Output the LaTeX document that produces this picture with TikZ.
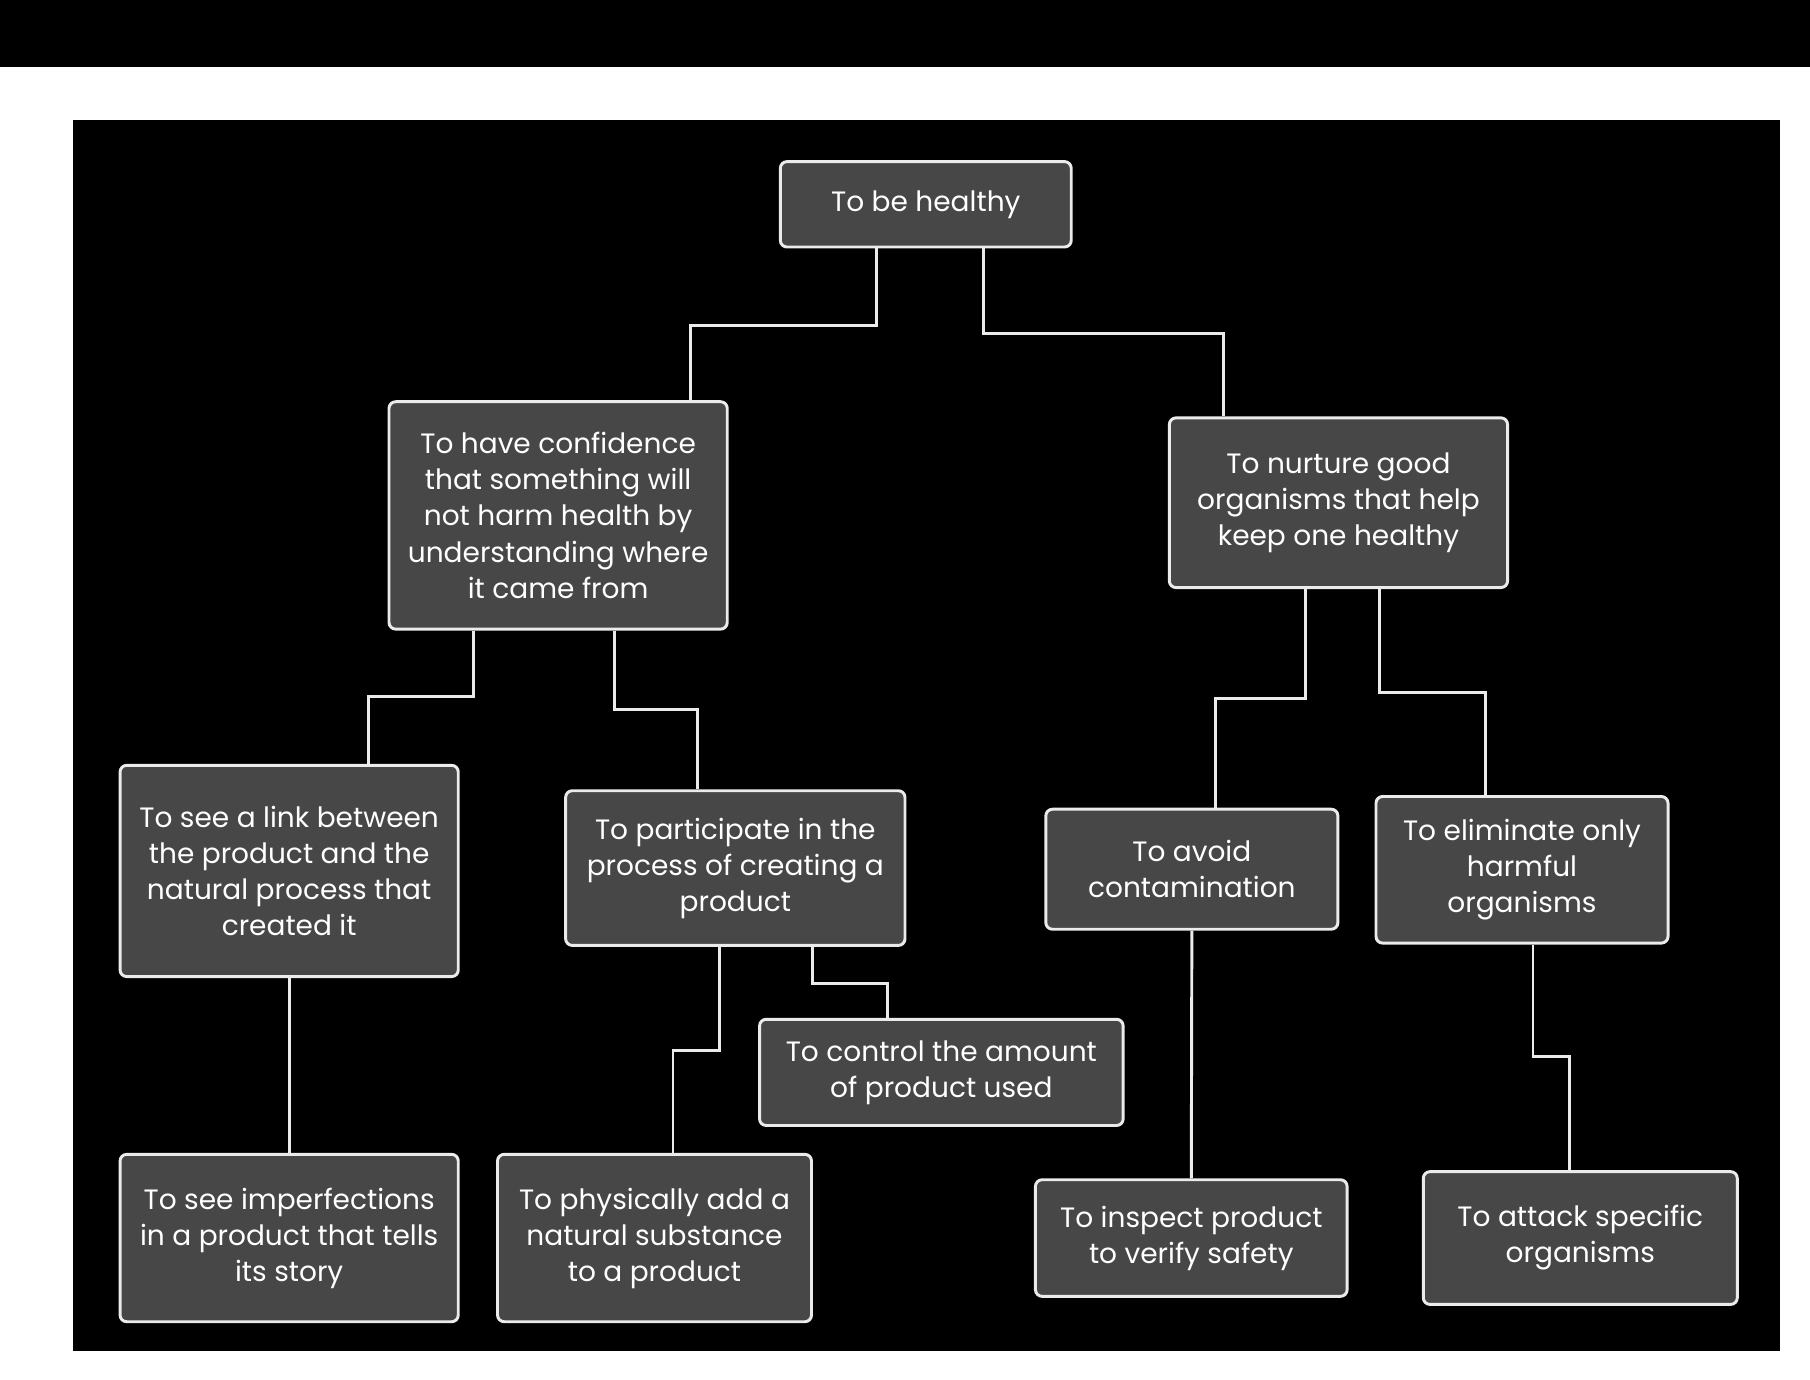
\documentclass[tikz,border=0pt]{standalone}
\usepackage{fontspec}
\setmainfont{Poppins}
\begin{document}
\begin{tikzpicture}[x=0.8655pt,y=-0.8655pt,
  box/.style={draw=white!92!black,line width=2.2pt,fill=black!72,rounded corners=5pt,text=white,align=center,inner sep=0pt,font=\fontsize{21}{27}\selectfont},
  ln/.style={draw=white!92!black,line width=2.2pt}]
\useasboundingbox (0,0) rectangle (1568,1195);
\fill[white] (0,0) rectangle (1568,1195);
\fill[black] (0,0) rectangle (1568,58);
\fill[black] (63,104) rectangle (1542,1170);
\newcommand{\bx}[6]{\node[box,minimum width={(#3-#2)*0.8655pt},minimum height={(#5-#4)*0.8655pt}] (#1) at ({(#2+#3)/2},{(#4+#5)/2}) {#6};}
\bx{top}{676}{928}{140}{214}{To be healthy}
\bx{A}{337}{630}{348}{545}{To have confidence\\that something will\\not harm health by\\understanding where\\it came from}
\bx{B}{1013}{1306}{362}{509}{To nurture good\\organisms that help\\keep one healthy}
\bx{C}{104}{397}{663}{846}{To see a link between\\the product and the\\natural process that\\created it}
\bx{D}{490}{784}{685}{819}{To participate in the\\process of creating a\\product}
\bx{E}{906}{1159}{701}{805}{To avoid\\contamination}
\bx{F}{1192}{1445}{690}{817}{To eliminate only\\harmful\\organisms}
\bx{G}{658}{973}{883}{975}{To control the amount\\of product used}
\bx{H}{104}{397}{1000}{1145}{To see imperfections\\in a product that tells\\its story}
\bx{I}{431}{703}{1000}{1145}{To physically add a\\natural substance\\to a product}
\bx{J}{897}{1167}{1022}{1123}{To inspect product\\to verify safety}
\bx{K}{1233}{1505}{1015}{1130}{To attack specific\\organisms}
\draw[ln] (759,0 |- top.south) -- (759,282) -- (598,282) -- (598,0 |- A.north);
\draw[ln] (852,0 |- top.south) -- (852,289) -- (1060,289) -- (1060,0 |- B.north);
\draw[ln] (410,0 |- A.south) -- (410,603) -- (319,603) -- (319,0 |- C.north);
\draw[ln] (532,0 |- A.south) -- (532,615) -- (604,615) -- (604,0 |- D.north);
\draw[ln] (1131,0 |- B.south) -- (1131,605) -- (1053,605) -- (1053,0 |- E.north);
\draw[ln] (1195,0 |- B.south) -- (1195,600) -- (1287,600) -- (1287,0 |- F.north);
\draw[ln] (C.south) -- (H.north);
\draw[ln] (623,0 |- D.south) -- (623,910) -- (583,910) -- (583,0 |- I.north);
\draw[ln] (704,0 |- D.south) -- (704,852) -- (769,852) -- (769,0 |- G.north);
\draw[ln] (E.south) -- (J.north);
\draw[ln] (1328,0 |- F.south) -- (1328,915) -- (1360,915) -- (1360,0 |- K.north);
\end{tikzpicture}
\end{document}
